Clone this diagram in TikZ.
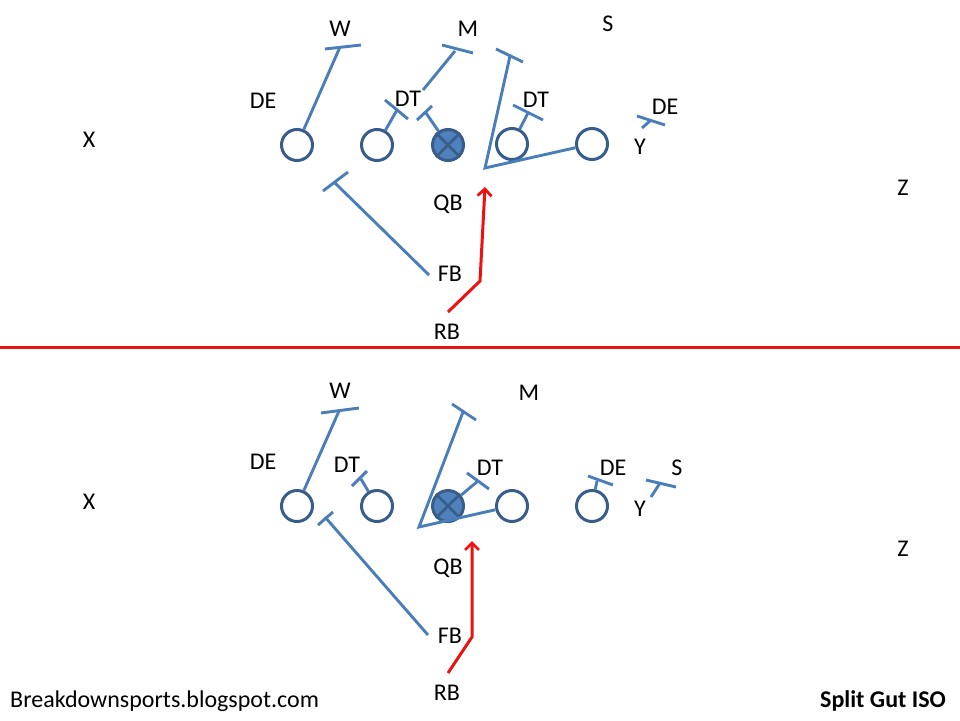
\documentclass[tikz,border=0pt]{standalone}
\usepackage{fontspec}
\setmainfont{Carlito}
\usetikzlibrary{arrows.meta}
\definecolor{lblue}{HTML}{4A7EBB}
\definecolor{dblue}{HTML}{385D8A}
\definecolor{fblue}{HTML}{4F81BD}
\definecolor{rred}{HTML}{EE1111}
\begin{document}
\begin{tikzpicture}[x=1pt,y=-1pt,
  lbl/.style={font=\fontsize{24}{28}\selectfont, inner sep=0pt, text depth=0pt},
  player/.style={circle, draw=dblue, line width=3pt, minimum size=31pt, inner sep=0pt, fill=white},
  center/.style={player, fill=fblue},
  blk/.style={draw=lblue, line width=2.9pt},
  run/.style={draw=rred, line width=3pt},
  runtip/.style={run, -{Straight Barb[length=7pt,width=14pt,line width=2.8pt]}}]
\useasboundingbox (0,0) rectangle (960,720);
\fill[white] (0,0) rectangle (960,720);

% ================= TOP =================
\node[lbl] (tW) at (340,29) {W};
\node[lbl] (tM) at (468,29) {M};
\node[lbl] (tS) at (608,24) {S};
\node[lbl] (tDEl) at (263,101) {DE};
\node[lbl] (tDTl) at (408,99) {DT};
\node[lbl] (tDTr) at (536,100) {DT};
\node[lbl] (tDEr) at (665,107) {DE};
\node[lbl] (tY) at (640,147) {Y};
\node[lbl] (tX) at (89,140) {X};
\node[lbl] (tZ) at (903,188) {Z};
\node[lbl] (tQB) at (448,203) {QB};
\node[lbl] (tFB) at (450,274) {FB};
\node[lbl] (tRB) at (447,332) {RB};

\node[player] (t1) at (297,145) {};
\node[player] (t2) at (377,145) {};
\node[center] (t3) at (448,145) {};
\node[player] (t4) at (512,144) {};
\node[player] (t5) at (592,144) {};
\draw[dblue, line width=2.6pt] (t3.north east) -- (t3.south west) (t3.north west) -- (t3.south east);

% blocks
\coordinate (a1) at (340,47);
\coordinate (a1l) at (325,49); \coordinate (a1r) at (361,45);
\draw[blk] (t1) -- (a1); \draw[blk] (a1l) -- (a1r);

\coordinate (a2) at (397,110);
\coordinate (a2l) at (385,100); \coordinate (a2r) at (408,119);
\draw[blk] (t2) -- (a2); \draw[blk] (a2l) -- (a2r);

\coordinate (a3) at (426,113);
\coordinate (a3l) at (417,120); \coordinate (a3r) at (432,106);
\draw[blk] (t3) -- (a3); \draw[blk] (a3l) -- (a3r);

\coordinate (a3s) at (423,90); \coordinate (a3e) at (455,51);
\coordinate (a3el) at (442,45); \coordinate (a3er) at (473,53);
\draw[blk] (a3s) -- (a3e); \draw[blk] (a3el) -- (a3er);

\coordinate (a4) at (528,113);
\coordinate (a4l) at (513,105); \coordinate (a4r) at (543,120);
\draw[blk] (t4) -- (a4); \draw[blk] (a4l) -- (a4r);

\coordinate (a5c) at (485,168);
\coordinate (a5) at (510,56);
\coordinate (a5l) at (496,49); \coordinate (a5r) at (523,62);
\draw[blk, line join=miter] (t5) -- (a5c) -- (a5); \draw[blk] (a5l) -- (a5r);

\coordinate (aYs) at (642,128); \coordinate (aY) at (651,120);
\coordinate (aYl) at (637,116); \coordinate (aYr) at (665,125);
\draw[blk] (aYs) -- (aY); \draw[blk] (aYl) -- (aYr);

\coordinate (aFs) at (429,275); \coordinate (aF) at (335,183);
\coordinate (aFl) at (323,191); \coordinate (aFr) at (348,172);
\draw[blk] (aFs) -- (aF); \draw[blk] (aFl) -- (aFr);

\coordinate (r1) at (448,312); \coordinate (r2) at (480,281); \coordinate (r3) at (485,187);
\draw[runtip] (r1) -- (r2) -- (r3);

% divider
\coordinate (dl) at (0,347); \coordinate (dr) at (960,347);
\draw[rred, line width=3pt] (dl) -- (dr);

% ================= BOTTOM =================
\node[lbl] (bW) at (340,391) {W};
\node[lbl] (bM) at (529,393) {M};
\node[lbl] (bDEl) at (263,462) {DE};
\node[lbl] (bDTl) at (347,465) {DT};
\node[lbl] (bDTr) at (490,468) {DT};
\node[lbl] (bDEr) at (613,468) {DE};
\node[lbl] (bS) at (677,468) {S};
\node[lbl] (bY) at (640,509) {Y};
\node[lbl] (bX) at (89,502) {X};
\node[lbl] (bZ) at (903,549) {Z};
\node[lbl] (bQB) at (448,567) {QB};
\node[lbl] (bFB) at (450,636) {FB};
\node[lbl] (bRB) at (447,693) {RB};

\node[player] (b1) at (297,506) {};
\node[player] (b2) at (377,506) {};
\node[center] (b3) at (448,506) {};
\node[player] (b4) at (512,506) {};
\node[player] (b5) at (592,506) {};
\draw[dblue, line width=2.6pt] (b3.north east) -- (b3.south west) (b3.north west) -- (b3.south east);

\coordinate (c1) at (339,411);
\coordinate (c1l) at (321,413); \coordinate (c1r) at (359,408);
\draw[blk] (b1) -- (c1); \draw[blk] (c1l) -- (c1r);

\coordinate (c2) at (361,479);
\coordinate (c2l) at (352,486); \coordinate (c2r) at (367,471);
\draw[blk] (b2) -- (c2); \draw[blk] (c2l) -- (c2r);

\coordinate (c3) at (478,481);
\coordinate (c3l) at (467,473); \coordinate (c3r) at (489,489);
\draw[blk] (b3) -- (c3); \draw[blk] (c3l) -- (c3r);

\coordinate (c4c) at (419,527);
\coordinate (c4) at (463,412);
\coordinate (c4l) at (452,404); \coordinate (c4r) at (476,420);
\draw[blk, line join=miter] (b4) -- (c4c) -- (c4); \draw[blk] (c4l) -- (c4r);

\coordinate (c5) at (597,481);
\coordinate (c5l) at (588,476); \coordinate (c5r) at (613,485);
\draw[blk] (b5) -- (c5); \draw[blk] (c5l) -- (c5r);

\coordinate (cYs) at (651,497); \coordinate (cY) at (660,483);
\coordinate (cYl) at (646,480); \coordinate (cYr) at (676,487);
\draw[blk] (cYs) -- (cY); \draw[blk] (cYl) -- (cYr);

\coordinate (cFs) at (428,635); \coordinate (cF) at (325,517);
\coordinate (cFl) at (318,525); \coordinate (cFr) at (333,512);
\draw[blk] (cFs) -- (cF); \draw[blk] (cFl) -- (cFr);

\coordinate (s1) at (448,673); \coordinate (s2) at (472,637); \coordinate (s3) at (472,541);
\draw[runtip] (s1) -- (s2) -- (s3);

% footer
\node[lbl, anchor=base west] (site) at (10,707) {Breakdownsports.blogspot.com};
\node[lbl, anchor=base east, font=\fontsize{24}{28}\selectfont\bfseries] (title) at (946,707) {Split Gut ISO};
\end{tikzpicture}
\end{document}
